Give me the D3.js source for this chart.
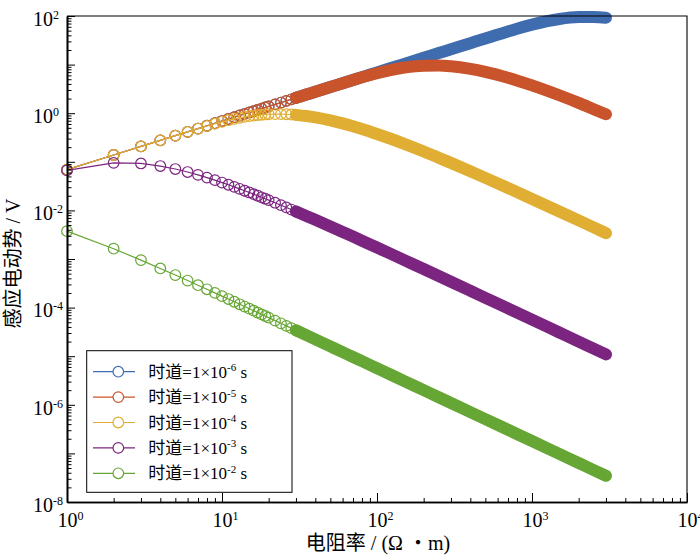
<!DOCTYPE html>
<html>
<head>
<meta charset="utf-8">
<script src="https://cdn.jsdelivr.net/npm/d3@7/dist/d3.min.js"></script>
<style>
  body { margin: 0; background: #fff; }
  svg text { font-family: "Liberation Serif", "Times New Roman", "Noto Sans CJK SC", serif; }
</style>
</head>
<body>
<div id="chart"></div>
<script>
// resistivity (ohm m) of the plotted points
const rho = [1, 2, 3, 4, 5, 6, 7, 8, 9, 10, 11, 12, 13, 14, 15, 16, 17, 18, 19, 20,
  22, 24, 26, 28, 30, 35, 40, 50, 60, 70, 80, 100, 120, 150, 200, 250, 300, 400,
  500, 700, 1000, 1500, 2000, 2500, 3000];

// induced emf (V) per time channel
const emfT6 = [0.069, 0.138, 0.207, 0.276, 0.345, 0.414, 0.483, 0.552, 0.621, 0.69,
  0.759, 0.828, 0.897, 0.966, 1.035, 1.104, 1.173, 1.242, 1.311, 1.38,
  1.518, 1.656, 1.794, 1.932, 2.07, 2.415, 2.76, 3.45, 4.14, 4.83, 5.52, 6.9, 8.28,
  10.35, 13.8, 17.25, 20.7, 27.6, 34.5, 48.1, 66.5, 87.0, 95.1, 95.7, 92.4];
const emfT5 = [0.069, 0.138, 0.207, 0.276, 0.345, 0.414, 0.483, 0.552, 0.621, 0.69,
  0.759, 0.828, 0.897, 0.966, 1.035, 1.104, 1.173, 1.242, 1.311, 1.38,
  1.518, 1.656, 1.794, 1.932, 2.07, 2.415, 2.76, 3.45, 4.13, 4.81, 5.46, 6.65, 7.64,
  8.70, 9.51, 9.57, 9.24, 8.18, 7.10, 5.37, 3.74, 2.34, 1.63, 1.21, 0.949];
const emfT4 = [0.069, 0.138, 0.207, 0.276, 0.345, 0.413, 0.481, 0.546, 0.608, 0.665,
  0.717, 0.764, 0.805, 0.840, 0.870, 0.895, 0.915, 0.930, 0.942, 0.951,
  0.960, 0.959, 0.952, 0.940, 0.924, 0.874, 0.818, 0.710, 0.616, 0.537, 0.473, 0.374,
  0.305, 0.234, 0.163, 0.121, 0.0949, 0.0639, 0.0467, 0.0289, 0.0172, 0.0095,
  0.00622, 0.00447, 0.00341];
const emfT3 = [0.0665, 0.0951, 0.0924, 0.0818, 0.0710, 0.0616, 0.0537, 0.0473, 0.0419,
  0.0374, 0.0337, 0.0305, 0.0278, 0.0254, 0.0234, 0.0216, 0.0200, 0.0186, 0.0174,
  0.0163, 0.0144, 0.0128, 0.0115, 0.0104, 0.00949, 0.00769, 0.00639, 0.00467, 0.0036,
  0.00289, 0.00238, 0.00172, 0.00132, 0.00095, 0.000622, 0.000447, 0.000341,
  0.000222, 0.000159, 9.64e-5, 5.66e-5, 3.08e-5, 2.0e-5, 1.43e-5, 1.09e-5];
const emfT2 = [3.74e-3, 1.63e-3, 9.49e-4, 6.39e-4, 4.67e-4, 3.6e-4, 2.89e-4, 2.38e-4,
  2.01e-4, 1.72e-4, 1.5e-4, 1.32e-4, 1.17e-4, 1.05e-4, 9.5e-5, 8.64e-5, 7.9e-5,
  7.26e-5, 6.71e-5, 6.22e-5, 5.4e-5, 4.75e-5, 4.21e-5, 3.78e-5, 3.41e-5, 2.71e-5,
  2.22e-5, 1.59e-5, 1.21e-5, 9.64e-6, 7.9e-6, 5.66e-6, 4.31e-6, 3.08e-6, 2.0e-6,
  1.43e-6, 1.09e-6, 7.09e-7, 5.08e-7, 3.06e-7, 1.8e-7, 9.77e-8, 6.35e-8, 4.54e-8,
  3.46e-8];

const channelExp = ["-6", "-5", "-4", "-3", "-2"];
const xTickExp = [0, 1, 2, 3, 4];
const yTickExp = [-8, -7, -6, -5, -4, -3, -2, -1, 0, 1, 2];

const colors = ["#3f6cae", "#c9532a", "#e0ae33", "#7b2580", "#66a634"];
const series = [emfT6, emfT5, emfT4, emfT3, emfT2].map((values, i) => ({
  values: values,
  exp: channelExp[i],
  color: colors[i],
}));

const bandFrom = 30; // beyond this the markers merge into a solid band

const margin = { top: 16, right: 13, bottom: 56, left: 67 },
  width = 700 - margin.left - margin.right,
  height = 558 - margin.top - margin.bottom;

const svg = d3
  .select("#chart")
  .append("svg")
  .attr("width", width + margin.left + margin.right)
  .attr("height", height + margin.top + margin.bottom)
  .append("g")
  .attr("transform", `translate(${margin.left},${margin.top})`);

const x = d3.scaleLog().domain([1, 1e4]).range([0, width]);
const y = d3.scaleLog().domain([1e-8, 1e2]).range([height, 0]);

// series: thin line, open circles, then a thick band where they pile up
const line = d3.line();
const band = d3.line().curve(d3.curveMonotoneX);
series.forEach((s) => {
  const pts = rho.map((r, i) => ({ r: r, px: x(r), py: y(s.values[i]) }));
  const g = svg.append("g");
  g.append("path")
    .attr("d", line(pts.map((p) => [p.px, p.py])))
    .attr("fill", "none")
    .attr("stroke", s.color)
    .attr("stroke-width", 1.2);
  g.append("path")
    .attr("d", band(pts.filter((p) => p.r >= bandFrom).map((p) => [p.px, p.py])))
    .attr("fill", "none")
    .attr("stroke", s.color)
    .attr("stroke-width", 12)
    .attr("stroke-linecap", "round")
    .attr("stroke-linejoin", "round");
  g.selectAll("circle")
    .data(pts.filter((p) => p.r <= bandFrom))
    .join("circle")
    .attr("cx", (d) => d.px)
    .attr("cy", (d) => d.py)
    .attr("r", 5.3)
    .attr("fill", "none")
    .attr("stroke", s.color)
    .attr("stroke-width", 1.2);
});

// log minor tick positions
const xMinor = [];
xTickExp.slice(0, -1).forEach((e) => {
  for (let k = 2; k <= 9; k++) xMinor.push(k * Math.pow(10, e));
});
const yMinor = [];
yTickExp.slice(0, -1).forEach((e) => {
  for (let k = 2; k <= 9; k++) yMinor.push(k * Math.pow(10, e));
});

const styleAxis = (g) => {
  g.attr("font-family", null).attr("font-size", 20);
  g.selectAll(".tick line").attr("stroke", "#000").attr("stroke-width", 1);
  g.select(".domain").attr("stroke", "#000").attr("stroke-width", 1.6);
};

// X axis
svg
  .append("g")
  .attr("transform", `translate(0,${height})`)
  .call(d3.axisBottom(x).tickValues(xMinor).tickSize(-4).tickSizeOuter(0).tickFormat(""))
  .call(styleAxis);
const xAxis = svg
  .append("g")
  .attr("transform", `translate(0,${height})`)
  .call(
    d3.axisBottom(x)
      .tickValues(xTickExp.map((e) => Math.pow(10, e)))
      .tickSize(-9)
      .tickSizeOuter(0)
      .tickPadding(10.5)
      .tickFormat("")
  )
  .call(styleAxis);
xAxis.selectAll(".tick text").each(function (d, i) {
  const t = d3.select(this).attr("text-anchor", "start").attr("x", -10).attr("fill", "#000");
  t.append("tspan").text("10");
  t.append("tspan").attr("dy", -7).attr("font-size", 12).text(xTickExp[i]);
});

// Y axis
svg
  .append("g")
  .call(d3.axisLeft(y).tickValues(yMinor).tickSize(-4.5).tickSizeOuter(0).tickFormat(""))
  .call(styleAxis);
const yAxis = svg
  .append("g")
  .call(
    d3.axisLeft(y)
      .tickValues(yTickExp.map((e) => Math.pow(10, e)))
      .tickSize(-8)
      .tickSizeOuter(0)
      .tickFormat("")
  )
  .call(styleAxis);
yAxis.selectAll(".tick text").each(function (d, i) {
  const e = yTickExp[i];
  if (e % 2 !== 0) return;
  const t = d3
    .select(this)
    .attr("text-anchor", "start")
    .attr("x", -34)
    .attr("dy", "0.46em")
    .attr("fill", "#000");
  t.append("tspan").text("10");
  t.append("tspan").attr("dy", -7).attr("font-size", 12).text(e);
});

// box top and right
svg
  .append("path")
  .attr("d", `M0,0H${width}V${height}`)
  .attr("fill", "none")
  .attr("stroke", "#000")
  .attr("stroke-width", 1.1);

// axis titles
svg
  .append("text")
  .attr("x", 311)
  .attr("y", height + 47.5)
  .attr("text-anchor", "middle")
  .attr("font-size", 20)
  .text("电阻率 / (Ω ・m)");

svg
  .append("text")
  .attr("transform", `translate(-54.5,${247.5}) rotate(-90)`)
  .attr("text-anchor", "middle")
  .attr("dominant-baseline", "central")
  .attr("font-size", 20)
  .text("感应电动势 / V");

// legend
const legend = svg.append("g").attr("transform", "translate(19.7,334.7)");
legend
  .append("rect")
  .attr("width", 205.3)
  .attr("height", 141.6)
  .attr("fill", "#fff")
  .attr("stroke", "#000")
  .attr("stroke-width", 1);
series.forEach((s, i) => {
  const row = legend.append("g").attr("transform", `translate(0,${21 + i * 25.4})`);
  row.append("line")
    .attr("x1", 6.3)
    .attr("x2", 48.3)
    .attr("stroke", s.color)
    .attr("stroke-width", 1.2);
  row.append("circle")
    .attr("cx", 31.6)
    .attr("r", 5.3)
    .attr("fill", "#fff")
    .attr("stroke", s.color)
    .attr("stroke-width", 1.2);
  const t = row.append("text")
    .attr("x", 61.6)
    .attr("y", 6)
    .attr("font-size", 17);
  t.append("tspan").text("时道=1×10");
  t.append("tspan").attr("dy", -6.5).attr("font-size", 11).text(s.exp);
  t.append("tspan").attr("dy", 6.5).text(" s");
});
</script>
</body>
</html>
